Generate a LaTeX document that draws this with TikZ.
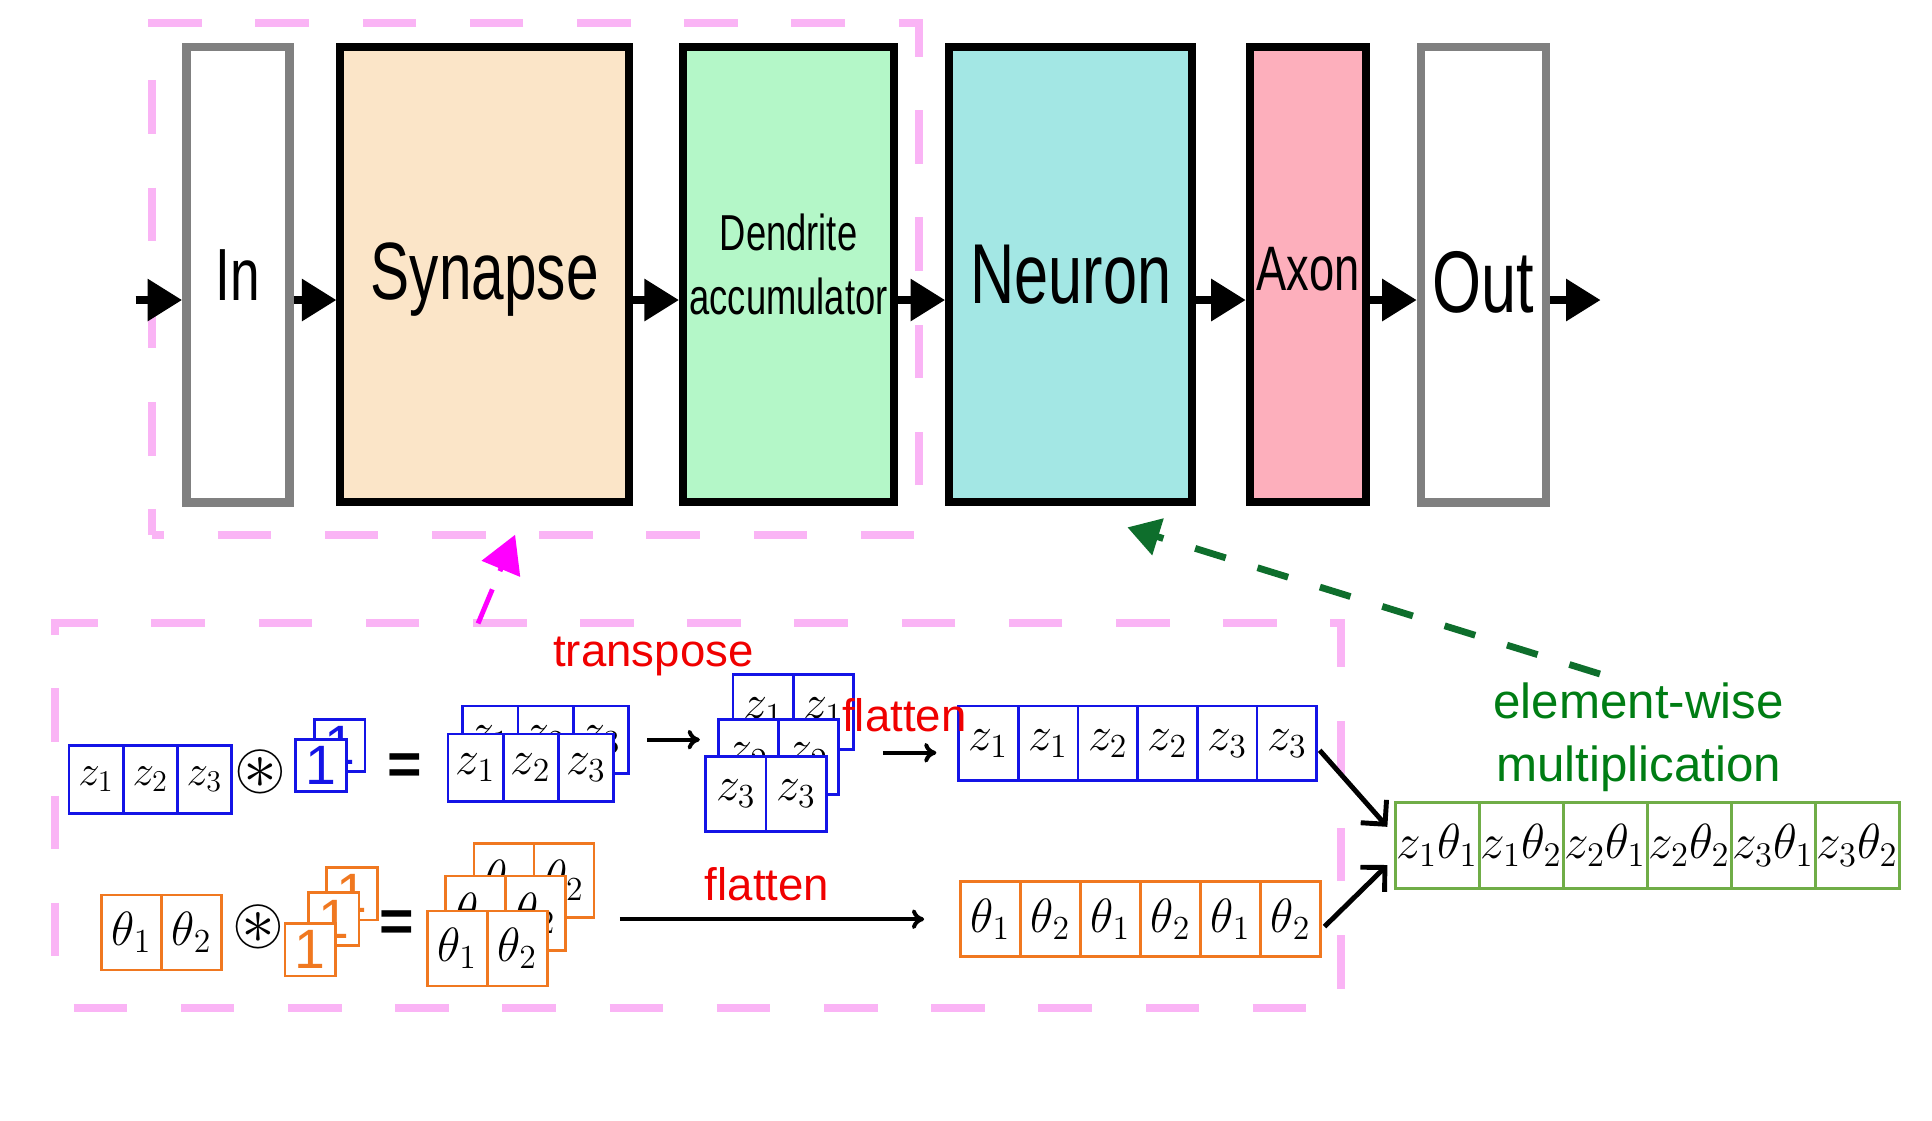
\documentclass[tikz,border=0pt]{standalone}
\usepackage{fix-cm}
\usepackage{amssymb}
\usepackage{fontspec}
\usetikzlibrary{arrows.meta,calc}
\newfontfamily\narrowfont[FakeStretch=0.72]{Liberation Sans}
\newfontfamily\arialfont{Liberation Sans}
\definecolor{synfill}{RGB}{251,229,200}
\definecolor{denfill}{RGB}{180,247,200}
\definecolor{neufill}{RGB}{163,231,228}
\definecolor{axonfill}{RGB}{253,175,188}
\definecolor{portgray}{RGB}{128,128,128}
\definecolor{grppink}{RGB}{250,180,245}
\definecolor{srcmagenta}{RGB}{255,0,255}
\definecolor{zblue}{RGB}{20,20,230}
\definecolor{torange}{RGB}{240,120,32}
\definecolor{gcellgreen}{RGB}{112,173,71}
\definecolor{notered}{RGB}{240,0,0}
\definecolor{notegreen}{RGB}{0,125,20}
\definecolor{fbgreen}{RGB}{14,110,44}
\begin{document}
\begin{tikzpicture}%
	[x={(0.5pt,0pt)},
	y={(0pt,-0.5pt)},
	block/.style={draw=black, line width=3.25pt, minimum height=184.75pt, inner sep=0pt, text depth=0pt},
	port/.style={block, draw=portgray, line width=3.5pt, fill=white},
	flow/.style={line width=3pt, -{Triangle[length=14pt,width=16.5pt]}},
	grp/.style={draw=grppink, line width=3.25pt, dash pattern=on 21.75pt off 21.75pt, inner sep=0pt, outer sep=0pt},
	srcarrow/.style={draw=srcmagenta, line width=2pt, dash pattern=on 15pt off 8pt, -{Triangle[length=15pt,width=16.5pt]}},
	fbarrow/.style={draw=fbgreen, line width=2.75pt, dash pattern=on 13pt off 13.5pt, -{Triangle[length=13pt,width=15pt]}},
	cell/.style={fill=white, line width=1.1pt, inner sep=0pt, minimum width=24.4pt, minimum height=30.4pt, font=\fontsize{19.5}{23}\selectfont},
	zcell/.style={cell, draw=zblue},
	zsmall/.style={zcell, minimum width=22pt, minimum height=27.5pt, font=\fontsize{17.5}{21}\selectfont},
	tcell/.style={cell, draw=torange},
	gcell/.style={cell, draw=gcellgreen, line width=1.35pt, minimum width=34.09pt, minimum height=34.75pt, font=\fontsize{20}{24}\selectfont},
	onebox/.style={fill=white, line width=1.1pt, inner sep=0pt, minimum width=20.6pt, minimum height=21.3pt, font=\arialfont\fontsize{22.5}{27}\selectfont},
	opsym/.style={inner sep=0pt, font=\fontsize{27}{32}\selectfont},
	eqsym/.style={inner sep=0pt, font=\arialfont\bfseries\fontsize{24}{29}\selectfont},
	note/.style={inner sep=0pt, anchor=base, text=notered, font=\arialfont\fontsize{18.5}{22}\selectfont},
	thinarrow/.style={line width=1.6pt, -{Computer Modern Rightarrow[length=5pt,width=8pt]}},
	joinarrow/.style={line width=2pt, -{Straight Barb[length=7pt,width=14pt]}}]
%
\useasboundingbox (0, 0) rectangle (1568, 909);
%
%% Free ends of the connectors
%%
\coordinate (inlet) at (110.0, 243.5);
\coordinate (outlet) at (1299.0, 243.5);
\coordinate (fbtail) at (1298.5, 547.0);
%%
%%
%% Drawing the dashed groups
%%
\node[grp, minimum width=311.15pt, minimum height=207.6pt, dash phase=16.85pt] (topgrp) at (434.45, 226.4) {};
\node[grp, minimum width=521.5pt, minimum height=156pt, dash phase=36.15pt] (lowgrp) at (566.5, 662.0) {};
%%
%%
%% Drawing the pipeline blocks
%%
\node[port, minimum width=41.75pt, text height=21pt, font=\narrowfont\fontsize{30}{36}\selectfont] (in) at (193.0, 223.0) {In};
\node[block, fill=synfill, minimum width=117.25pt, text height=20pt, font=\narrowfont\fontsize{33}{40}\selectfont] (syn) at (393.5, 223.0) {Synapse};
\node[block, fill=denfill, minimum width=85.75pt, text height=32pt, font=\narrowfont\fontsize{20.5}{26}\selectfont] (den) at (640.0, 223.0) {\parbox[b]{84pt}{\centering Dendrite\\accumulator}};
\node[block, fill=neufill, minimum width=98.75pt, text height=23pt, font=\narrowfont\fontsize{34.5}{41}\selectfont] (neu) at (869.0, 223.0) {Neuron};
\node[block, fill=axonfill, minimum width=47.25pt, text height=13pt, font=\narrowfont\fontsize{25.5}{31}\selectfont] (axon) at (1061.5, 223.0) {Axon};
\node[port, minimum width=50.75pt, text height=31pt, font=\narrowfont\fontsize{35.5}{42}\selectfont] (out) at (1204.0, 223.0) {Out};
%%
%%
%% Drawing the pipeline arrows
%%
\draw[flow] (inlet) -- ([yshift=-10.25pt]in.west);
\draw[flow] ([yshift=-10.25pt]in.east) -- ([yshift=-10.25pt]syn.west);
\draw[flow] ([yshift=-10.25pt]syn.east) -- ([yshift=-10.25pt]den.west);
\draw[flow] ([yshift=-10.25pt]den.east) -- ([yshift=-10.25pt]neu.west);
\draw[flow] ([yshift=-10.25pt]neu.east) -- ([yshift=-10.25pt]axon.west);
\draw[flow] ([yshift=-10.25pt]axon.east) -- ([yshift=-10.25pt]out.west);
\draw[flow] ([yshift=-10.25pt]out.east) -- (outlet);
%%
%%
%% Drawing the links between the two levels
%%
\draw[srcarrow] ([xshift=-89.25pt]lowgrp.north) -- ([xshift=-8.2pt]topgrp.south);
\draw[fbarrow] (fbtail) -- ([xshift=23pt,yshift=-8.5pt]neu.south);
%%
%%
%% Drawing the z row
%%
\node[zsmall] (zl1) at (78.0, 632.5) {$z_1$};
\node[zsmall] (zl2) at (122.0, 632.5) {$z_2$};
\node[zsmall] (zl3) at (166.0, 632.5) {$z_3$};
\node[opsym] (zop) at (211.6, 626.4) {$\circledast$};
\node[onebox, draw=zblue, text=zblue] (zoneb) at (275.6, 605.0) {1};
\node[onebox, draw=zblue, text=zblue] (zonef) at (260.7, 621.2) {1};
\node[eqsym] (zeq) at (328.7, 624.0) {=};
\node[zcell, minimum width=22.4pt, minimum height=27.3pt] (zb1) at (397.9, 600.3) {$z_1$};
\node[zcell, minimum width=22.4pt, minimum height=27.3pt] (zb2) at (442.75, 600.3) {$z_2$};
\node[zcell, minimum width=22.4pt, minimum height=27.3pt] (zb3) at (487.6, 600.3) {$z_3$};
\node[zcell, minimum width=22.4pt, minimum height=27.3pt] (zf1) at (385.9, 623.0) {$z_1$};
\node[zcell, minimum width=22.4pt, minimum height=27.3pt] (zf2) at (430.75, 623.0) {$z_2$};
\node[zcell, minimum width=22.4pt, minimum height=27.3pt] (zf3) at (475.6, 623.0) {$z_3$};
\node[zcell] (tz1a) at (619.4, 577.9) {$z_1$};
\node[zcell] (tz1b) at (668.2, 577.9) {$z_1$};
\node[zcell] (tz2a) at (607.35, 614.5) {$z_2$};
\node[zcell] (tz2b) at (656.05, 614.5) {$z_2$};
\node[zcell] (tz3a) at (597.2, 644.3) {$z_3$};
\node[zcell] (tz3b) at (646.1, 644.3) {$z_3$};
\node[zcell, minimum width=24.23pt, minimum height=30.35pt] (fz1) at (802.1, 603.35) {$z_1$};
\node[zcell, minimum width=24.23pt, minimum height=30.35pt] (fz2) at (850.6, 603.35) {$z_1$};
\node[zcell, minimum width=24.23pt, minimum height=30.35pt] (fz3) at (899.1, 603.35) {$z_2$};
\node[zcell, minimum width=24.23pt, minimum height=30.35pt] (fz4) at (947.5, 603.35) {$z_2$};
\node[zcell, minimum width=24.23pt, minimum height=30.35pt] (fz5) at (996.0, 603.35) {$z_3$};
\node[zcell, minimum width=24.23pt, minimum height=30.35pt] (fz6) at (1044.5, 603.35) {$z_3$};
%%
%%
%% Drawing the theta row
%%
\node[tcell, minimum width=24.37pt] (tl1) at (106.9, 756.85) {$\theta_1$};
\node[tcell, minimum width=24.37pt] (tl2) at (155.6, 756.85) {$\theta_2$};
\node[opsym] (top) at (209.7, 752.2) {$\circledast$};
\node[onebox, draw=torange, text=torange] (oneob) at (285.75, 725.4) {1};
\node[onebox, draw=torange, text=torange] (oneom) at (270.85, 745.8) {1};
\node[onebox, draw=torange, text=torange] (oneof) at (251.9, 770.8) {1};
\node[eqsym] (teq) at (322.0, 751.4) {=};
\node[tcell, minimum height=30.05pt] (tb1) at (409.0, 714.55) {$\theta_1$};
\node[tcell, minimum height=30.05pt] (tb2) at (457.7, 714.55) {$\theta_2$};
\node[tcell, minimum height=30.3pt] (tm1) at (386.1, 741.3) {$\theta_1$};
\node[tcell, minimum height=30.3pt] (tm2) at (434.8, 741.3) {$\theta_2$};
\node[tcell] (tf1) at (371.15, 769.85) {$\theta_1$};
\node[tcell] (tf2) at (419.85, 769.85) {$\theta_2$};
\node[tcell, minimum width=24.37pt] (fo1) at (803.9, 746.0) {$\theta_1$};
\node[tcell, minimum width=24.37pt] (fo2) at (852.6, 746.0) {$\theta_2$};
\node[tcell, minimum width=24.37pt] (fo3) at (901.3, 746.0) {$\theta_1$};
\node[tcell, minimum width=24.37pt] (fo4) at (950.1, 746.0) {$\theta_2$};
\node[tcell, minimum width=24.37pt] (fo5) at (998.8, 746.0) {$\theta_1$};
\node[tcell, minimum width=24.37pt] (fo6) at (1047.5, 746.0) {$\theta_2$};
%%
%%
%% Drawing the product row
%%
\node[gcell] (g1) at (1166.4, 686.25) {$z_1\theta_1$};
\node[gcell] (g2) at (1234.6, 686.25) {$z_1\theta_2$};
\node[gcell] (g3) at (1302.8, 686.25) {$z_2\theta_1$};
\node[gcell] (g4) at (1370.9, 686.25) {$z_2\theta_2$};
\node[gcell] (g5) at (1439.1, 686.25) {$z_3\theta_1$};
\node[gcell] (g6) at (1507.3, 686.25) {$z_3\theta_2$};
%%
%%
%% Drawing the arrows of the lower level
%%
\draw[thinarrow] ([xshift=7pt]zb3.east) -- ($(tz3a.west |- zb3.east)+(-1.85pt,0)$);
\draw[thinarrow] ($(tz1b.east |- fz1.west)+(11.45pt,-3.8pt)$) -- ($(fz1.west)+(-8.4pt,-3.8pt)$);
\draw[thinarrow] ($(tb2.east |- fo1.west)+(9.95pt,0)$) -- ($(fo1.west)+(-14.2pt,0)$);
\draw[joinarrow] ($(fz6.east)+(0.6pt,-2.8pt)$) -- ($(g1.west)+(-2.5pt,7.6pt)$);
\draw[joinarrow] ($(fo6.east)+(1pt,-3pt)$) -- ($(g1.west)+(-2.5pt,-7.9pt)$);
%%
%%
%% Drawing the labels
%%
\node[note] (transp) at (530.3, 541.0) {transpose};
\node[note] (flatz) at (734.0, 594.0) {flatten};
\node[note] (flatt) at (622.5, 730.5) {flatten};
\node[inner sep=0pt, anchor=base, text=notegreen, font=\arialfont\fontsize{20}{25.5}\selectfont] (mult) at (1330.0, 634.4) {\parbox[b]{140pt}{\centering element-wise\\multiplication}};
%%
%%
\end{tikzpicture}
\end{document}
